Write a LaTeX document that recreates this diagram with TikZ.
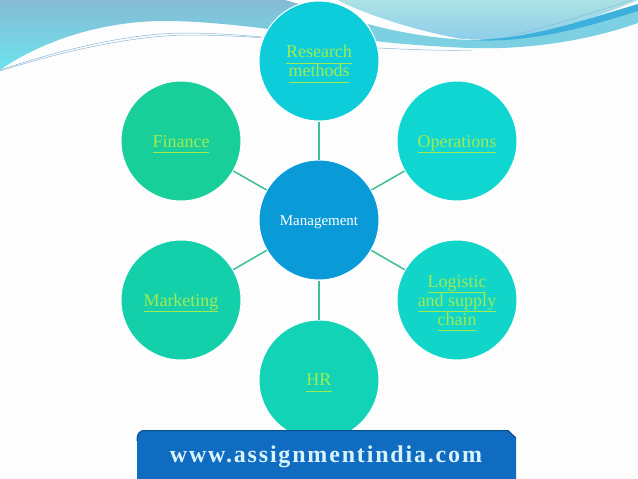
\documentclass[tikz,border=0pt]{standalone}
\usepackage{xcolor}
\usepackage{fontspec}
\setmainfont{Liberation Serif}
\newfontfamily\bannerfont[LetterSpace=7.6]{Liberation Serif}
\usepackage{tikz}
\definecolor{pagewhite}{RGB}{253,253,253}
\definecolor{waveblue}{RGB}{134,186,212}
\definecolor{wavecyan}{RGB}{108,228,238}
\definecolor{wavepale}{RGB}{172,226,228}
\definecolor{wavesky}{RGB}{140,205,235}
\definecolor{waveband}{RGB}{124,208,226}
\definecolor{wavedeep}{RGB}{60,175,220}
\definecolor{hubblue}{RGB}{10,154,216}
\definecolor{researchcyan}{RGB}{14,205,218}
\definecolor{operationscyan}{RGB}{16,214,210}
\definecolor{logisticteal}{RGB}{16,213,200}
\definecolor{hrteal}{RGB}{18,211,182}
\definecolor{marketinggreen}{RGB}{20,208,170}
\definecolor{financegreen}{RGB}{24,207,154}
\definecolor{linkgreen}{RGB}{160,235,80}
\definecolor{spokegreen}{RGB}{62,190,155}
\definecolor{bannerblue}{RGB}{15,108,192}
\definecolor{bannerdark}{RGB}{10,78,140}
\newcommand{\linktext}[1]{\raisebox{-3pt}[\height][\depth]{\underline{\vphantom{p}#1}}}
\tikzset{
  topic/.style={circle, draw=white, line width=1pt, minimum size=120pt, inner sep=0pt,
    align=center, text=linkgreen, font=\fontsize{18}{19}\selectfont},
  hub/.style={topic, text=white, font=\fontsize{15}{18}\selectfont},
  spoke/.style={spokegreen, line width=1.5pt},
  thinwave/.style={waveblue, line width=0.5pt}
}
\begin{document}
\begin{tikzpicture}[x=1pt, y=-1pt]
            \useasboundingbox (0,0) rectangle (638,479);
            \fill[pagewhite] (0,0) rectangle (638,479);

            % Waves at the top
            \shade[top color=waveblue, bottom color=wavecyan]
              (0,0) -- (0,70) .. controls (40,42) and (100,21) .. (165,21)
              .. controls (200,21) and (250,26) .. (290,32) -- (320,10) -- (285,0) -- cycle;
            \fill[waveband] (368,24) .. controls (400,33) and (440,39) .. (470,40)
              .. controls (530,38) and (600,14) .. (638,6) -- (638,23)
              .. controls (590,40) and (530,50) .. (470,48)
              .. controls (440,47) and (400,44) .. (375,41) -- cycle;
            \shade[top color=wavepale, bottom color=wavesky]
              (338,0) .. controls (355,10) and (410,30) .. (462,39)
              .. controls (530,42) and (590,20) .. (638,0) -- cycle;
            \fill[wavedeep] (470,40) .. controls (530,40) and (590,18) .. (638,4) -- (638,11)
              .. controls (590,26) and (530,44) .. (470,40) -- cycle;
            \draw[thinwave] (0,70) .. controls (60,50) and (130,33) .. (185,33)
              .. controls (210,33) and (240,35) .. (262,37);
            \draw[thinwave] (0,71) .. controls (60,52) and (130,36) .. (185,35)
              .. controls (210,35) and (240,36) .. (262,38);
            \draw[thinwave] (378,48) .. controls (400,49) and (440,51) .. (472,50);
            \draw[thinwave] (510,36) .. controls (560,24) and (600,10) .. (632,0);

            % Outer circles
            \node[topic, fill=researchcyan] (research) at (319,61) {\linktext{Research}\\\linktext{methods}};
            \node[topic, fill=operationscyan] (operations) at (457,141) {\linktext{Operations}};
            \node[topic, fill=logisticteal] (logistic) at (457,300) {\linktext{Logistic}\\\linktext{and supply}\\\linktext{chain}};
            \node[topic, fill=hrteal] (hr) at (319,380) {\linktext{HR}};
            \node[topic, fill=marketinggreen] (marketing) at (181,300) {\linktext{Marketing}};
            \node[topic, fill=financegreen] (finance) at (181,141) {\linktext{Finance}};

            % Centre circle
            \node[hub, fill=hubblue] (management) at (319,220) {\raisebox{-2pt}[\height][\depth]{Management}};

            % Spokes
            \foreach \target in {research,operations,logistic,hr,marketing,finance}
              \draw[spoke] (management) -- (\target);

            % Banner
            \fill[bannerblue] (137,479) -- (137,438) .. controls (137,433) and (140,430) .. (145,430)
              -- (508,430) -- (516,438) -- (516,479) -- cycle;
            \draw[bannerdark, line width=1pt] (137,441) .. controls (137,433) and (140,430.5) .. (145,430.5)
              -- (508,430.5) -- (516,438);
            \node[text=white!85!cyan, font=\fontsize{24}{28}\bfseries\bannerfont] (site) at (326,457) {www.assignmentindia.com};
        \end{tikzpicture}
\end{document}
